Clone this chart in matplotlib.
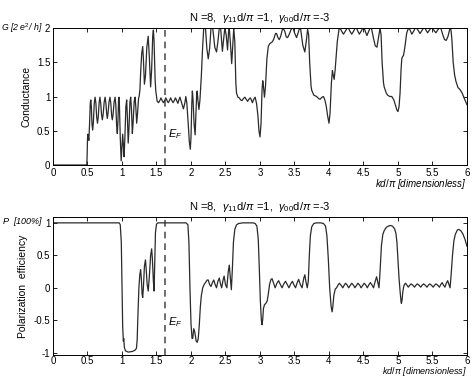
import matplotlib
matplotlib.use("Agg")
import matplotlib.pyplot as plt

plt.rcParams["font.family"] = ["Liberation Sans", "DejaVu Sans"]
plt.rcParams["mathtext.fontset"] = "custom"
plt.rcParams["mathtext.rm"] = "Liberation Sans"
plt.rcParams["mathtext.it"] = "Liberation Sans:italic"
plt.rcParams["axes.unicode_minus"] = False

# conductance G (units of 2e^2/h) against kd/pi
g_points = [
    (0.0, 0.0), (0.49, 0.0), (0.495, 0.15), (0.50, 0.38), (0.505, 0.45), (0.512, 0.40),
    (0.52, 0.36), (0.53, 0.6), (0.54, 0.9), (0.548, 0.95), (0.556, 0.85), (0.565, 0.6),
    (0.575, 0.51), (0.585, 0.62), (0.598, 0.9), (0.61, 0.99), (0.622, 0.9), (0.633, 0.7),
    (0.645, 0.61), (0.656, 0.7), (0.668, 0.9), (0.68, 0.99), (0.692, 0.9), (0.703, 0.74),
    (0.715, 0.66), (0.727, 0.74), (0.742, 0.92), (0.755, 0.99), (0.767, 0.9), (0.777, 0.76),
    (0.787, 0.68), (0.797, 0.75), (0.812, 0.92), (0.826, 0.99), (0.838, 0.9), (0.85, 0.72),
    (0.86, 0.66), (0.87, 0.73), (0.886, 0.92), (0.90, 0.99), (0.91, 0.88), (0.922, 0.58),
    (0.932, 0.46), (0.942, 0.65), (0.95, 0.95), (0.956, 0.99), (0.962, 0.9), (0.975, 0.4),
    (0.988, 0.06), (0.998, 0.25), (1.01, 0.45), (1.02, 0.3), (1.03, 0.12), (1.042, 0.4),
    (1.056, 0.85), (1.068, 0.95), (1.078, 0.7), (1.09, 0.32), (1.102, 0.55), (1.115, 0.92),
    (1.126, 0.99), (1.137, 0.82), (1.15, 0.46), (1.16, 0.6), (1.177, 0.93), (1.19, 0.99),
    (1.20, 0.85), (1.213, 0.61), (1.225, 0.75), (1.24, 0.97), (1.25, 1.01), (1.26, 1.1),
    (1.27, 1.34), (1.285, 1.62), (1.30, 1.73), (1.31, 1.55), (1.325, 1.18), (1.34, 1.3),
    (1.36, 1.72), (1.38, 1.88), (1.395, 1.6), (1.415, 1.14), (1.43, 1.4), (1.445, 1.88),
    (1.455, 1.97), (1.465, 1.8), (1.48, 1.25), (1.49, 1.08), (1.51, 0.93), (1.53, 0.91),
    (1.548, 0.94), (1.565, 0.98), (1.583, 0.94), (1.60, 0.91), (1.618, 0.94), (1.635, 0.98),
    (1.653, 0.94), (1.67, 0.91), (1.688, 0.94), (1.705, 0.98), (1.723, 0.94), (1.74, 0.91),
    (1.758, 0.94), (1.775, 0.98), (1.793, 0.94), (1.81, 0.90), (1.825, 0.95), (1.84, 0.99),
    (1.86, 0.92), (1.89, 0.82), (1.91, 0.9), (1.925, 1.0), (1.94, 0.9), (1.96, 0.6),
    (1.975, 0.35), (1.99, 0.23), (2.0, 0.4), (2.012, 0.9), (2.02, 1.08), (2.03, 0.95),
    (2.045, 0.6), (2.06, 0.44), (2.07, 0.7), (2.083, 1.05), (2.09, 1.08), (2.10, 0.95),
    (2.115, 0.81), (2.13, 0.95), (2.15, 1.3), (2.17, 1.75), (2.185, 2.0), (2.21, 2.0),
    (2.23, 1.7), (2.25, 1.55), (2.27, 1.7), (2.29, 2.0), (2.315, 2.0), (2.345, 1.72),
    (2.37, 1.65), (2.39, 1.8), (2.41, 2.0), (2.43, 2.0), (2.455, 1.66), (2.475, 1.85),
    (2.49, 2.0), (2.51, 1.9), (2.53, 1.68), (2.545, 1.95), (2.555, 2.0), (2.57, 1.8),
    (2.59, 1.48), (2.605, 1.75), (2.62, 2.0), (2.635, 1.8), (2.65, 1.2), (2.66, 1.05),
    (2.68, 0.99), (2.70, 0.98), (2.72, 0.95), (2.74, 0.94), (2.76, 0.97), (2.78, 0.99),
    (2.80, 0.96), (2.82, 0.93), (2.84, 0.96), (2.86, 0.98), (2.875, 0.95), (2.89, 0.91),
    (2.91, 0.96), (2.93, 0.99), (2.95, 0.9), (2.97, 0.72), (2.985, 0.5), (3.0, 0.41),
    (3.015, 0.6), (3.03, 1.1), (3.04, 1.23), (3.05, 1.15), (3.065, 0.99), (3.08, 1.15),
    (3.10, 1.55), (3.12, 1.73), (3.14, 1.77), (3.165, 1.79), (3.18, 1.80), (3.20, 1.84),
    (3.225, 1.92), (3.24, 1.92), (3.26, 1.86), (3.28, 1.83), (3.30, 1.88), (3.325, 1.98),
    (3.34, 1.99), (3.36, 1.95), (3.38, 1.87), (3.40, 1.86), (3.42, 1.9), (3.46, 2.0),
    (3.48, 2.0), (3.50, 1.93), (3.53, 1.86), (3.55, 1.92), (3.575, 2.0), (3.59, 1.98),
    (3.62, 1.75), (3.65, 1.65), (3.67, 1.8), (3.69, 1.98), (3.705, 1.9), (3.72, 1.5),
    (3.74, 1.15), (3.75, 1.09), (3.78, 1.02), (3.82, 1.0), (3.85, 0.97), (3.87, 0.96),
    (3.90, 0.99), (3.92, 1.0), (3.94, 0.95), (3.96, 0.86), (3.98, 0.72), (4.0, 0.61),
    (4.015, 0.75), (4.035, 1.2), (4.05, 1.38), (4.06, 1.32), (4.075, 1.25), (4.09, 1.4),
    (4.12, 1.8), (4.145, 1.98), (4.16, 2.0), (4.185, 1.95), (4.21, 1.91), (4.24, 1.96),
    (4.265, 2.0), (4.28, 2.0), (4.305, 1.95), (4.33, 1.91), (4.36, 1.96), (4.38, 2.0),
    (4.40, 2.0), (4.42, 1.95), (4.44, 1.91), (4.47, 1.96), (4.49, 2.0), (4.51, 2.0),
    (4.53, 1.94), (4.55, 1.89), (4.575, 1.95), (4.595, 2.0), (4.615, 2.0), (4.645, 1.85),
    (4.67, 1.74), (4.695, 1.72), (4.72, 1.88), (4.74, 2.0), (4.755, 1.9), (4.77, 1.5),
    (4.79, 1.2), (4.80, 1.14), (4.83, 1.05), (4.85, 1.02), (4.88, 1.0), (4.91, 1.0),
    (4.94, 0.95), (4.97, 0.85), (4.985, 0.8), (5.0, 0.78), (5.015, 0.85), (5.03, 1.05),
    (5.045, 1.4), (5.055, 1.55), (5.065, 1.58), (5.08, 1.6), (5.10, 1.72), (5.125, 1.92),
    (5.145, 1.98), (5.16, 2.0), (5.18, 1.96), (5.20, 1.91), (5.225, 1.95), (5.25, 2.0),
    (5.27, 2.0), (5.295, 1.96), (5.32, 1.92), (5.345, 1.96), (5.37, 2.0), (5.39, 2.0),
    (5.41, 1.96), (5.43, 1.93), (5.455, 1.97), (5.48, 2.0), (5.50, 2.0), (5.525, 1.96),
    (5.55, 1.93), (5.575, 1.97), (5.60, 2.0), (5.62, 2.0), (5.65, 1.9), (5.675, 1.83),
    (5.70, 1.82), (5.725, 1.88), (5.75, 1.98), (5.765, 2.0), (5.78, 1.85), (5.80, 1.5),
    (5.82, 1.32), (5.84, 1.22), (5.87, 1.13), (5.90, 1.1), (5.93, 1.05), (5.97, 0.95),
    (6.0, 0.88),
]

# polarization efficiency P against kd/pi
p_points = [
    (0.0, -0.2), (0.004, 1.0), (0.96, 1.0), (0.975, 0.97), (0.99, 0.7), (1.0, 0.0),
    (1.01, -0.6), (1.02, -0.82), (1.025, -0.78), (1.035, -0.92), (1.05, -0.97), (1.09, -0.99),
    (1.15, -0.98), (1.19, -0.96), (1.21, -0.93), (1.22, -0.8), (1.23, -0.45), (1.245, 0.0),
    (1.258, 0.2), (1.27, 0.28), (1.28, 0.15), (1.292, -0.1), (1.30, -0.15), (1.31, 0.0),
    (1.325, 0.33), (1.34, 0.43), (1.35, 0.3), (1.365, 0.05), (1.38, -0.05), (1.395, 0.15),
    (1.415, 0.5), (1.43, 0.6), (1.44, 0.45), (1.455, 0.1), (1.465, -0.05), (1.475, 0.4),
    (1.485, 0.85), (1.50, 0.98), (1.52, 1.0), (1.93, 1.0), (1.955, 0.97), (1.97, 0.7),
    (1.985, 0.0), (2.0, -0.55), (2.015, -0.78), (2.025, -0.78), (2.04, -0.63), (2.055, -0.68),
    (2.075, -0.82), (2.09, -0.84), (2.105, -0.78), (2.12, -0.58), (2.135, -0.3), (2.15, -0.12),
    (2.17, 0.0), (2.19, 0.05), (2.21, 0.08), (2.235, 0.12), (2.25, 0.12), (2.27, 0.05),
    (2.29, 0.02), (2.31, 0.08), (2.33, 0.12), (2.35, 0.05), (2.37, 0.0), (2.39, 0.1),
    (2.41, 0.15), (2.43, 0.05), (2.445, 0.0), (2.465, 0.12), (2.48, 0.18), (2.50, 0.05),
    (2.52, 0.0), (2.54, 0.25), (2.555, 0.35), (2.57, 0.15), (2.585, -0.03), (2.60, 0.3),
    (2.615, 0.7), (2.635, 0.9), (2.66, 0.97), (2.69, 0.99), (2.75, 1.0), (2.90, 1.0),
    (2.93, 0.99), (2.955, 0.95), (2.975, 0.75), (2.99, 0.3), (3.005, -0.2), (3.02, -0.5),
    (3.03, -0.57), (3.04, -0.48), (3.05, -0.32), (3.065, -0.26), (3.085, -0.24), (3.105, -0.2),
    (3.12, -0.1), (3.14, 0.06), (3.16, 0.13), (3.175, 0.14), (3.195, 0.08), (3.22, 0.0),
    (3.245, 0.07), (3.27, 0.11), (3.295, 0.05), (3.32, 0.0), (3.345, 0.06), (3.37, 0.1),
    (3.395, 0.05), (3.42, 0.0), (3.445, 0.06), (3.47, 0.1), (3.49, 0.05), (3.515, 0.0),
    (3.54, 0.08), (3.56, 0.13), (3.585, 0.05), (3.61, 0.0), (3.635, 0.15), (3.65, 0.2),
    (3.665, 0.1), (3.685, 0.0), (3.70, 0.1), (3.715, 0.5), (3.73, 0.8), (3.75, 0.94),
    (3.78, 0.99), (3.82, 1.0), (3.88, 1.0), (3.92, 0.99), (3.95, 0.95), (3.97, 0.8),
    (3.99, 0.45), (4.01, 0.0), (4.03, -0.28), (4.045, -0.37), (4.055, -0.3), (4.07, -0.12),
    (4.09, -0.02), (4.11, 0.0), (4.13, 0.04), (4.15, 0.07), (4.175, 0.04), (4.20, 0.0),
    (4.22, 0.04), (4.24, 0.07), (4.265, 0.04), (4.285, 0.0), (4.31, 0.04), (4.33, 0.07),
    (4.355, 0.04), (4.375, 0.0), (4.40, 0.04), (4.42, 0.07), (4.445, 0.04), (4.465, 0.0),
    (4.49, 0.04), (4.51, 0.07), (4.535, 0.04), (4.555, 0.0), (4.58, 0.05), (4.60, 0.08),
    (4.625, 0.04), (4.645, 0.0), (4.67, 0.1), (4.69, 0.17), (4.705, 0.1), (4.725, 0.0),
    (4.74, 0.25), (4.76, 0.65), (4.78, 0.82), (4.80, 0.88), (4.83, 0.93), (4.86, 0.95),
    (4.89, 0.96), (4.92, 0.95), (4.95, 0.91), (4.97, 0.84), (4.985, 0.7), (5.0, 0.43),
    (5.015, 0.15), (5.03, -0.05), (5.045, -0.22), (5.05, -0.24), (5.06, -0.18), (5.07, -0.06),
    (5.085, 0.03), (5.10, 0.06), (5.11, 0.07), (5.13, 0.04), (5.15, 0.01), (5.17, 0.04),
    (5.19, 0.06), (5.215, 0.04), (5.24, 0.01), (5.26, 0.04), (5.28, 0.06), (5.305, 0.04),
    (5.33, 0.01), (5.35, 0.04), (5.37, 0.06), (5.395, 0.04), (5.42, 0.01), (5.44, 0.04),
    (5.46, 0.06), (5.485, 0.04), (5.51, 0.01), (5.53, 0.04), (5.55, 0.06), (5.575, 0.04),
    (5.60, 0.01), (5.62, 0.05), (5.64, 0.08), (5.66, 0.04), (5.68, 0.01), (5.70, 0.07),
    (5.72, 0.11), (5.74, 0.05), (5.755, 0.0), (5.77, 0.2), (5.79, 0.5), (5.81, 0.72),
    (5.83, 0.82), (5.86, 0.89), (5.88, 0.9), (5.91, 0.88), (5.94, 0.83), (5.97, 0.75),
    (6.0, 0.64),
]

x_ticks = [0, 0.5, 1, 1.5, 2, 2.5, 3, 3.5, 4, 4.5, 5, 5.5, 6]
x_ticklabels = ["0", "0.5", "1", "1.5", "2", "2.5", "3", "3.5", "4", "4.5", "5", "5.5", "6"]
g_ticks = [0, 0.5, 1, 1.5, 2]
g_ticklabels = ["0", "0.5", "1", "1.5", "2"]
p_ticks = [-1, -0.5, 0, 0.5, 1]
p_ticklabels = ["-1", "-0.5", "0", "0.5", "1"]
e_fermi = 1.625

g_x, g_val = zip(*g_points)
p_x, p_val = zip(*p_points)

title = r"N =8,  $\gamma_{11}$d/$\pi$ =1,  $\gamma_{00}$d/$\pi$ =-3"
xlabel = r"$kd/\pi$ [dimensionless]"
line_color = "#2a2a2a"

fig = plt.figure(figsize=(4.74, 3.78), dpi=100)
ax1 = fig.add_axes([0.1118, 0.5635, 0.8734, 0.3624])
ax2 = fig.add_axes([0.1118, 0.0608, 0.8734, 0.3651])

for ax in (ax1, ax2):
    ax.set_xlim(0, 6)
    ax.set_xticks(x_ticks)
    ax.set_xticklabels(x_ticklabels)
    ax.tick_params(direction="in", top=True, right=True, labelsize=7,
                   length=3, width=0.6, pad=2)
    for s in ax.spines.values():
        s.set_linewidth(0.7)
    ax.axvline(e_fermi, color="#555555", linestyle=(0, (4, 3)), linewidth=1.2)
    ax.set_title(title, fontsize=8, pad=5)

# upper panel: conductance
ax1.plot(g_x, g_val, color=line_color, linewidth=0.9)
ax1.set_ylim(0, 2)
ax1.set_yticks(g_ticks)
ax1.set_yticklabels(g_ticklabels)
ax1.set_ylabel("Conductance", fontsize=7.5, labelpad=4)
ax1.text(1.0, -0.09, xlabel, transform=ax1.transAxes,
         ha="right", va="top", fontsize=7, style="italic")
fig.text(1 / 474, 1 - 28 / 378, r"G [2 e$^{2}$/ h]",
         ha="left", va="center", fontsize=6.3, style="italic")
ax1.text(1.66, 0.40, r"$E_F$", fontsize=8)

# lower panel: polarization
ax2.plot(p_x, p_val, color=line_color, linewidth=0.9)
ax2.set_ylim(-1.035, 1.09)
ax2.set_yticks(p_ticks)
ax2.set_yticklabels(p_ticklabels)
ax2.tick_params(axis="x", pad=0.5)
ax2.set_ylabel("Polarization  efficiency", fontsize=7.5, labelpad=4)
fig.text(467 / 474, 0.5 / 378, xlabel, ha="right", va="bottom",
         fontsize=6.5, style="italic")
fig.text(2 / 474, 1 - 221 / 378, r"$P$  [100%]",
         ha="left", va="center", fontsize=6.5, style="italic")
ax2.text(1.66, -0.58, r"$E_F$", fontsize=8)

fig.savefig("out.png", dpi=100)
